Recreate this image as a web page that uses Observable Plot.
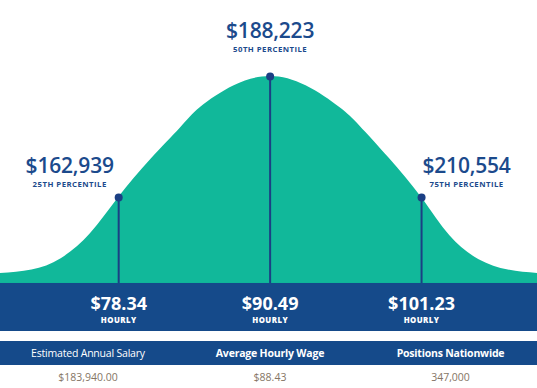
<!DOCTYPE html>
<html>
<head>
<meta charset="utf-8">
<script src="https://cdn.jsdelivr.net/npm/d3@7"></script>
<script src="https://cdn.jsdelivr.net/npm/@observablehq/plot@0.6"></script>
<style>
  body { margin: 0; background: #fff; font-family: "Open Sans", sans-serif; }
  #chart svg { display: block; }
  #chart g[font-size="7.8"] { letter-spacing: 0.45px; }
  #chart g[font-size="21"] { letter-spacing: -0.2px; }
  .row { display: grid; grid-template-columns: 176px 188px 173px; width: 537px; text-align: center; }
  .hdr { margin-top: 10px; height: 24px; background: #154a8a; color: #fff; font-size: 10.5px; align-items: center; letter-spacing: -0.2px; }
  .hdr div { font-weight: 700; }
  .hdr div:first-child { font-weight: 500; }
  .vals { height: 23px; color: #857565; font-size: 10.5px; align-items: center; }
</style>
</head>
<body>
<div id="chart"></div>
<script>
// Bell curve: position (z-score units) and height (% of peak)
const curveZ = [-1.20, -1.06, -0.93, -0.80, -0.674, -0.53, -0.40, -0.31, -0.16, 0,
                0.16, 0.31, 0.40, 0.53, 0.674, 0.80, 0.93, 1.06, 1.19];
const curveHeight = [4.8, 6.5, 12, 24, 41.5, 60, 75, 85, 95.5, 100,
                     95.5, 85, 76, 60.5, 41.5, 23, 11.5, 6.5, 4.8];

// Percentile markers
const percentileZ = [-0.674, 0, 0.674];
const percentileHeight = [41.5, 100, 41.5];
const salaryLabels = ["$162,939", "$188,223", "$210,554"];
const percentileNames = ["25TH PERCENTILE", "50TH PERCENTILE", "75TH PERCENTILE"];
const hourlyLabels = ["$78.34", "$90.49", "$101.23"];

// Summary table
const tableHeaders = ["Estimated Annual Salary", "Average Hourly Wage", "Positions Nationwide"];
const tableValues = ["$183,940.00", "$88.43", "347,000"];

const GREEN = "#11b89a";
const BAND = "#154a8a";
const TEXT = "#1b4a8c";
const STEM = "#1b3f84";

const curve = curveZ.map((z, i) => ({z, h: curveHeight[i]}));
const pcts = percentileZ.map((z, i) => ({
  z, h: percentileHeight[i], salary: salaryLabels[i], name: percentileNames[i], hourly: hourlyLabels[i]
}));

const labelDx = [-49, 0, 45];
const salaryDy = [-25, -38, -25];
const nameDy = [-11, -24, -11];

const xDomain = d3.extent(curveZ);
const yDomain = [-23.2, 136.7];

const marks = [
  Plot.areaY(curve, {x: "z", y: "h", fill: GREEN, curve: "natural"}),
  Plot.rect([0], {x1: xDomain[0], x2: xDomain[1], y1: yDomain[0], y2: 0, fill: BAND}),
  Plot.ruleX(pcts, {x: "z", y1: 0, y2: "h", stroke: STEM, strokeWidth: 2}),
  Plot.dot(pcts, {x: "z", y: "h", r: 4, fill: STEM}),
  Plot.text(pcts, {x: "z", y: 0, text: "hourly", dy: 27, lineAnchor: "bottom", fill: "#fff", fontSize: 18, fontWeight: 700}),
  Plot.text(pcts, {x: "z", y: 0, text: () => "HOURLY", dy: 40, lineAnchor: "bottom", fill: "#fff", fontSize: 7.8, fontWeight: 800})
];
pcts.forEach((p, i) => {
  marks.push(Plot.text([p], {x: "z", y: "h", text: "salary", dx: labelDx[i], dy: salaryDy[i], lineAnchor: "bottom", fill: TEXT, fontSize: 21, fontWeight: 600}));
  marks.push(Plot.text([p], {x: "z", y: "h", text: "name", dx: labelDx[i], dy: nameDy[i], lineAnchor: "bottom", fill: TEXT, fontSize: 7.8, fontWeight: 700}));
});

const plot = Plot.plot({
  width: 537,
  height: 331,
  margin: 0,
  x: {domain: xDomain, axis: null},
  y: {domain: yDomain, axis: null},
  style: {fontFamily: "'Open Sans', sans-serif", background: "transparent", overflow: "visible"},
  marks
});
document.getElementById("chart").append(plot);

const hdr = document.createElement("div");
hdr.className = "row hdr";
tableHeaders.forEach(t => { const d = document.createElement("div"); d.textContent = t; hdr.append(d); });
const vals = document.createElement("div");
vals.className = "row vals";
tableValues.forEach(t => { const d = document.createElement("div"); d.textContent = t; vals.append(d); });
document.body.append(hdr, vals);
</script>
</body>
</html>
